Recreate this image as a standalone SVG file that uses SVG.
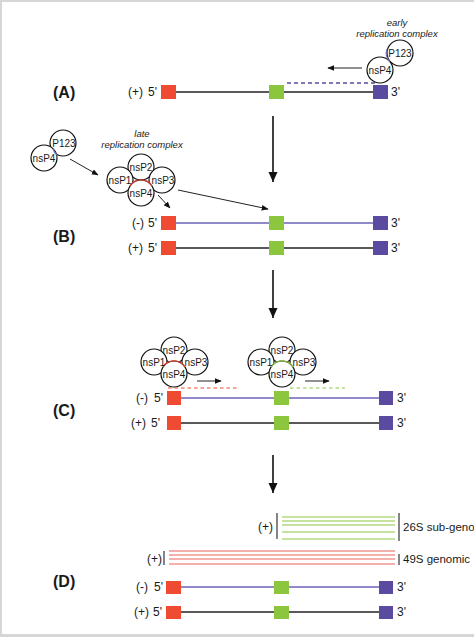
<svg xmlns="http://www.w3.org/2000/svg" width="474" height="637" viewBox="0 0 474 637">
<defs>
<style>
text{font-family:"Liberation Sans",Arial,sans-serif;fill:#1a1a1a}
.lbl{font-size:16px;font-weight:bold}
.s{font-size:12px}
.p{font-size:10px;text-anchor:middle}
.it{font-size:9.5px;font-style:italic;text-anchor:middle}
.c{fill:#fff;stroke:#111;stroke-width:1.2}
.red{fill:#ef4a32}
.grn{fill:#8cc63e}
.pur{fill:#5a4ba0}
.bk{stroke:#222;stroke-width:1.4;fill:none}
.pl{stroke:#6b62b8;stroke-width:1.4;fill:none}
.ar{stroke:#222;stroke-width:1;fill:none}
.va{stroke:#111;stroke-width:1.6;fill:none}
</style>
<marker id="ah" viewBox="0 0 10 10" refX="9" refY="5" markerWidth="7" markerHeight="7" orient="auto" markerUnits="userSpaceOnUse"><path d="M0,1 L10,5 L0,9 z" fill="#111"/></marker>
<marker id="ahb" viewBox="0 0 10 10" refX="10" refY="5" markerWidth="10" markerHeight="10" orient="auto" markerUnits="userSpaceOnUse"><path d="M0,0.5 L10,5 L0,9.5 z" fill="#111"/></marker>
</defs>
<rect width="474" height="637" fill="#fff"/>
<rect x="0" y="0" width="474" height="2" fill="#d6d6d6"/>
<rect x="0" y="0" width="2" height="637" fill="#d6d6d6"/>
<rect x="0" y="634" width="474" height="3" fill="#d6d6d6"/>

<g id="connectors">
<line class="va" x1="273" y1="116" x2="273" y2="182" marker-end="url(#ahb)"/>
<line class="va" x1="273" y1="270" x2="273" y2="318" marker-end="url(#ahb)"/>
<line class="va" x1="273" y1="455" x2="273" y2="493" marker-end="url(#ahb)"/>
<line class="ar" x1="362" y1="68" x2="328" y2="68" marker-end="url(#ah)"/>
<line class="ar" x1="70" y1="159" x2="98" y2="175" marker-end="url(#ah)"/>
<line class="ar" x1="158" y1="195" x2="170" y2="208" marker-end="url(#ah)"/>
<line class="ar" x1="178" y1="190" x2="268" y2="209" marker-end="url(#ah)"/>
<line class="ar" x1="197" y1="381" x2="221" y2="381" marker-end="url(#ah)"/>
<line class="ar" x1="305" y1="381" x2="329" y2="381" marker-end="url(#ah)"/>
</g>

<g id="panelA">
<text class="lbl" x="53" y="98">(A)</text>
<text class="s" x="128" y="96">(+)</text><text class="s" x="148" y="96">5'</text>
<line class="bk" x1="176" y1="92" x2="373" y2="92"/>
<line x1="287" y1="83" x2="377" y2="83" stroke="#5a4ba0" stroke-width="1.4" stroke-dasharray="4 3"/>
<rect class="red" x="161" y="85" width="15" height="14"/>
<rect class="grn" x="269" y="85" width="15" height="14"/>
<rect class="pur" x="373" y="85" width="15" height="14"/>
<text class="s" x="391" y="96">3'</text>
</g>

<g id="early-complex">
<text class="it" x="397" y="26">early</text>
<text class="it" x="397" y="37">replication complex</text>
<circle class="c" cx="400" cy="53" r="13"/>
<text class="p" x="400" y="57">P123</text>
<circle class="c" cx="380" cy="70" r="13"/>
<path d="M387,49 A13,13 0 0 0 390,62" fill="none" stroke="#7a70c0" stroke-width="1.2"/>
<text class="p" x="380" y="74">nsP4</text>
</g>

<g id="free-proteins">
<circle class="c" cx="63" cy="143" r="13"/>
<text class="p" x="64" y="147">P123</text>
<circle class="c" cx="44" cy="158" r="13"/>
<path d="M53,149 A13,13 0 0 0 57,155" fill="none" stroke="#7a70c0" stroke-width="1.2"/>
<text class="p" x="44" y="162">nsP4</text>
</g>

<g id="late-complex">
<text class="it" x="142" y="137">late</text>
<text class="it" x="142" y="148">replication complex</text>
<circle class="c" cx="141" cy="167" r="13"/>
<circle class="c" cx="120" cy="180" r="13"/>
<circle class="c" cx="162" cy="180" r="13"/>
<circle class="c" cx="141" cy="193" r="13"/>
<path d="M130,186 A13,13 0 0 1 152,186" fill="none" stroke="#e0402a" stroke-width="1.2"/>
<text class="p" x="141" y="171">nsP2</text>
<text class="p" x="120" y="184">nsP1</text>
<text class="p" x="163" y="184">nsP3</text>
<text class="p" x="141" y="197">nsP4</text>
</g>

<g id="panelB">
<text class="lbl" x="53" y="242">(B)</text>
<text class="s" x="132" y="227">(-)</text><text class="s" x="148" y="227">5'</text>
<line class="pl" x1="176" y1="223" x2="373" y2="223"/>
<rect class="red" x="161" y="216" width="15" height="14"/>
<rect class="grn" x="269" y="216" width="15" height="14"/>
<rect class="pur" x="373" y="216" width="15" height="14"/>
<text class="s" x="391" y="227">3'</text>
<text class="s" x="128" y="252">(+)</text><text class="s" x="148" y="252">5'</text>
<line class="bk" x1="176" y1="248" x2="373" y2="248"/>
<rect class="red" x="161" y="241" width="15" height="14"/>
<rect class="grn" x="269" y="241" width="15" height="14"/>
<rect class="pur" x="373" y="241" width="15" height="14"/>
<text class="s" x="391" y="252">3'</text>
</g>

<g id="complexC1">
<circle class="c" cx="174" cy="350" r="13"/>
<circle class="c" cx="154" cy="362" r="13"/>
<circle class="c" cx="195" cy="362" r="13"/>
<circle class="c" cx="174" cy="374" r="13"/>
<path d="M163,367 A13,13 0 0 1 185,367" fill="none" stroke="#e0402a" stroke-width="1.2"/>
<text class="p" x="174" y="354">nsP2</text>
<text class="p" x="154" y="366">nsP1</text>
<text class="p" x="196" y="366">nsP3</text>
<text class="p" x="174" y="378">nsP4</text>
</g>

<g id="complexC2">
<circle class="c" cx="282" cy="350" r="13"/>
<circle class="c" cx="261" cy="362" r="13"/>
<circle class="c" cx="303" cy="362" r="13"/>
<circle class="c" cx="282" cy="374" r="13"/>
<path d="M271,367 A13,13 0 0 1 293,367" fill="none" stroke="#8cc63e" stroke-width="1.2"/>
<text class="p" x="282" y="354">nsP2</text>
<text class="p" x="261" y="366">nsP1</text>
<text class="p" x="304" y="366">nsP3</text>
<text class="p" x="282" y="378">nsP4</text>
</g>

<g id="panelC">
<text class="lbl" x="53" y="416">(C)</text>
<line x1="168" y1="388" x2="237" y2="388" stroke="#ef4a32" stroke-width="1.2" stroke-dasharray="3.5 3"/>
<line x1="290" y1="388" x2="345" y2="388" stroke="#8cc63e" stroke-width="1.2" stroke-dasharray="3.5 3"/>
<text class="s" x="136" y="402">(-)</text><text class="s" x="154" y="402">5'</text>
<line class="pl" x1="181" y1="398" x2="379" y2="398"/>
<rect class="red" x="167" y="391" width="14" height="14"/>
<rect class="grn" x="274" y="391" width="15" height="14"/>
<rect class="pur" x="379" y="391" width="14" height="14"/>
<text class="s" x="397" y="402">3'</text>
<text class="s" x="131" y="427">(+)</text><text class="s" x="151" y="427">5'</text>
<line class="bk" x1="181" y1="423" x2="379" y2="423"/>
<rect class="red" x="167" y="416" width="14" height="14"/>
<rect class="grn" x="274" y="416" width="15" height="14"/>
<rect class="pur" x="379" y="416" width="14" height="14"/>
<text class="s" x="397" y="427">3'</text>
</g>

<g id="sub-genomic">
<text class="s" x="258" y="531">(+)</text>
<line x1="277" y1="513" x2="277" y2="539" stroke="#333" stroke-width="1.2"/>
<g stroke="#8cc63e" stroke-width="1.2">
<line x1="282" y1="517" x2="395" y2="517"/>
<line x1="282" y1="521" x2="395" y2="521"/>
<line x1="282" y1="525" x2="395" y2="525"/>
<line x1="282" y1="532" x2="395" y2="532"/>
<line x1="282" y1="539" x2="395" y2="539"/>
</g>
<line x1="399" y1="513" x2="399" y2="541" stroke="#333" stroke-width="1.2"/>
<text x="403" y="531" font-size="11.5">26S sub-genomic</text>
</g>

<g id="genomic">
<text class="s" x="147" y="563">(+)</text>
<line x1="164" y1="551" x2="164" y2="565" stroke="#333" stroke-width="1.2"/>
<g stroke="#e8625a" stroke-width="1.2">
<line x1="169" y1="551" x2="395" y2="551"/>
<line x1="169" y1="555" x2="395" y2="555"/>
<line x1="169" y1="559" x2="395" y2="559"/>
<line x1="169" y1="564" x2="395" y2="564"/>
</g>
<line x1="399" y1="554" x2="399" y2="565" stroke="#333" stroke-width="1.2"/>
<text x="403" y="563" font-size="11.5">49S genomic</text>
</g>

<g id="panelD">
<text class="lbl" x="53" y="587">(D)</text>
<text class="s" x="136" y="591">(-)</text><text class="s" x="154" y="591">5'</text>
<line class="pl" x1="181" y1="587" x2="379" y2="587"/>
<rect class="red" x="166" y="581" width="15" height="13"/>
<rect class="grn" x="274" y="581" width="15" height="13"/>
<rect class="pur" x="379" y="581" width="14" height="13"/>
<text class="s" x="397" y="591">3'</text>
<text class="s" x="134" y="616">(+)</text><text class="s" x="153" y="616">5'</text>
<line class="bk" x1="181" y1="612" x2="379" y2="612"/>
<rect class="red" x="166" y="606" width="15" height="13"/>
<rect class="grn" x="274" y="606" width="15" height="13"/>
<rect class="pur" x="379" y="606" width="14" height="13"/>
<text class="s" x="397" y="616">3'</text>
</g>
</svg>
